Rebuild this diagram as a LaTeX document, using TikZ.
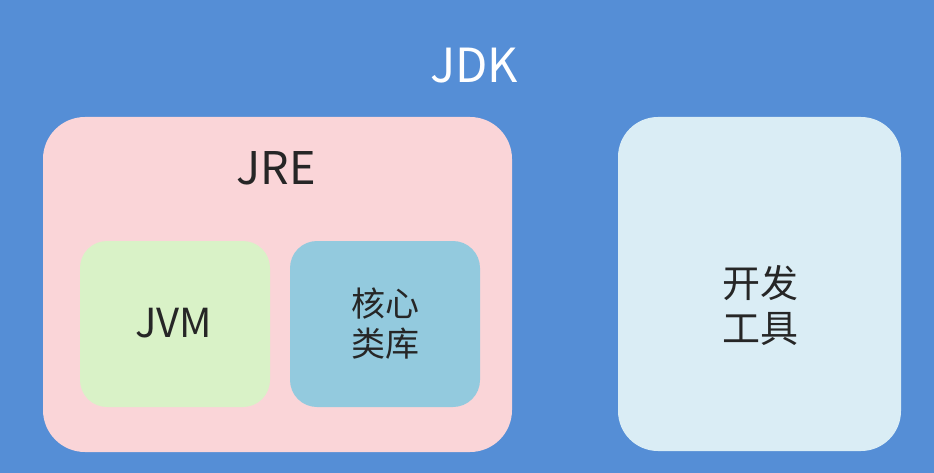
\documentclass[tikz,border=0pt]{standalone}
\usepackage{fontspec}
\setmainfont{Noto Sans CJK SC}
\definecolor{bgblue}{HTML}{558ED6}
\definecolor{jrepink}{HTML}{FAD5D8}
\definecolor{jvmgreen}{HTML}{D9F2C7}
\definecolor{libblue}{HTML}{93CADE}
\definecolor{toollight}{HTML}{DAEDF5}
\definecolor{txt}{HTML}{262626}
\begin{document}
\begin{tikzpicture}[x=1pt,y=-1pt,
  lbl/.style={inner sep=0pt,text=txt,align=center}]
\useasboundingbox (0,0) rectangle (934,473);
\fill[bgblue] (0,0) rectangle (934,473);
\node[lbl,text=white,font=\fontsize{47}{56}\selectfont] (jdk) at (474,66) {JDK};
\fill[jrepink,rounded corners=42pt] (43,117) rectangle (512,452);
\node[lbl,font=\fontsize{45}{54}\selectfont] (jre) at (276,168) {JRE};
\fill[jvmgreen,rounded corners=27pt] (80,241) rectangle (270,407);
\node[lbl,font=\fontsize{40}{48}\selectfont] (jvm) at (174,323) {JVM};
\fill[libblue,rounded corners=27pt] (290,241) rectangle (480,407);
\node[lbl,font=\fontsize{34}{40}\selectfont] (lib) at (385,324) {核心\\类库};
\fill[toollight,rounded corners=40pt] (618,117) rectangle (901,451);
\node[lbl,font=\fontsize{38}{45}\selectfont] (tool) at (760,306) {开发\\工具};
\end{tikzpicture}
\end{document}
